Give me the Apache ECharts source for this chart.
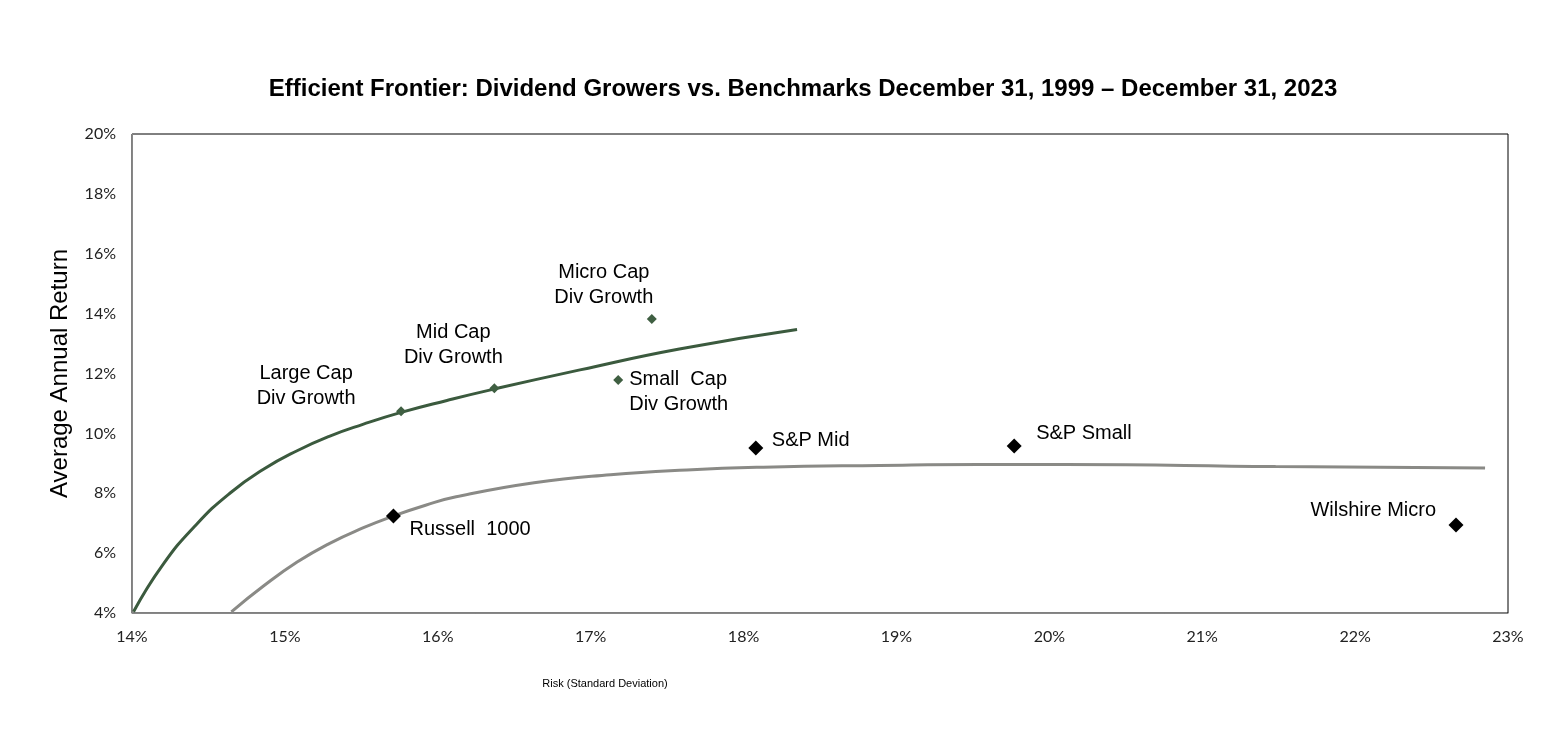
<!DOCTYPE html>
<html>
<head>
<meta charset="utf-8">
<script src="https://cdn.jsdelivr.net/npm/echarts@6/dist/echarts.min.js"></script>
<style>
  html, body { margin: 0; padding: 0; background: #fff; }
  #chart { width: 1565px; height: 739px; }
</style>
</head>
<body>
<div id="chart"></div>
<script>
// frontier curves, [risk %, return %]
const divGrowthFrontier = [
    [14.01, 4.04], [14.2, 5.6], [14.42, 6.95], [14.64, 8.0], [14.86, 8.8],
    [15.08, 9.42], [15.29, 9.9], [15.51, 10.3], [15.76, 10.7], [16.06, 11.1],
    [16.36, 11.47], [16.93, 12.12], [17.58, 12.82], [18.35, 13.47]
];
const benchmarkFrontier = [
    [14.65, 4.04], [14.86, 4.9], [15.08, 5.7], [15.29, 6.32], [15.51, 6.84],
    [15.71, 7.24], [15.92, 7.6], [16.12, 7.88], [16.63, 8.35], [17.13, 8.62],
    [17.63, 8.78], [18.13, 8.87], [18.89, 8.93], [19.54, 8.96], [20.1, 8.96],
    [21.48, 8.89], [22.85, 8.84]
];

const divGrowthNames = ["Large Cap\nDiv Growth", "Mid Cap\nDiv Growth", "Micro Cap\nDiv Growth", "Small  Cap\nDiv Growth"];
const divGrowthRisk = [15.76, 16.37, 17.4, 17.18];
const divGrowthReturn = [10.74, 11.51, 13.82, 11.78];

const benchNames = ["Russell  1000", "S&P Mid", "S&P Small", "Wilshire Micro"];
const benchRisk = [15.71, 18.08, 19.77, 22.66];
const benchReturn = [7.24, 9.51, 9.58, 6.94];

const xTicks = [14, 23, 1];
const yTicks = [4, 20, 2];

// label placement, by name
const labelLayout = {
    "Large Cap\nDiv Growth": { offset: [-95, -25], align: "center" },
    "Mid Cap\nDiv Growth": { offset: [-41, -43], align: "center" },
    "Micro Cap\nDiv Growth": { offset: [-48, -34], align: "center" },
    "Small  Cap\nDiv Growth": { offset: [11, 12], align: "left" },
    "Russell  1000": { offset: [16, 13], align: "left" },
    "S&P Mid": { offset: [16, -8], align: "left" },
    "S&P Small": { offset: [22, -12], align: "left" },
    "Wilshire Micro": { offset: [-20, -14], align: "right" }
};

const toPoints = (names, xs, ys) => names.map((n, i) => ({
    name: n,
    value: [xs[i], ys[i]],
    label: {
        show: true,
        position: "inside",
        offset: labelLayout[n].offset,
        align: labelLayout[n].align,
        verticalAlign: "middle"
    }
}));

const pointLabel = {
    formatter: (p) => p.name,
    color: "#000",
    fontSize: 20,
    lineHeight: 25,
    fontFamily: "Liberation Sans, Arial, sans-serif"
};

const chart = echarts.init(document.getElementById("chart"));

const option = {
    backgroundColor: "#fff",
    animation: false,
    title: {
        text: "Efficient Frontier: Dividend Growers vs. Benchmarks December 31, 1999 \u2013 December 31, 2023",
        left: 798,
        textAlign: "center",
        top: 72,
        textStyle: {
            fontFamily: "Liberation Sans, Arial, sans-serif",
            fontSize: 24,
            fontWeight: "bold",
            color: "#000"
        }
    },
    grid: {
        left: 132,
        right: 57,
        top: 134,
        bottom: 126,
        show: true,
        borderColor: "#000",
        borderWidth: 1
    },
    xAxis: {
        type: "value",
        min: xTicks[0],
        max: xTicks[1],
        interval: xTicks[2],
        name: "Risk (Standard Deviation)",
        nameLocation: "middle",
        nameGap: 65,
        nameTextStyle: {
            fontFamily: "Liberation Sans, Arial, sans-serif",
            fontSize: 11,
            color: "#000",
            padding: [0, 430, 0, 0]
        },
        axisLine: { lineStyle: { color: "#888", width: 1 } },
        axisTick: { show: false },
        splitLine: { show: false },
        axisLabel: {
            formatter: "{value}%",
            margin: 16,
            fontSize: 16,
            color: "#222",
            fontFamily: "Lato, Noto Sans, sans-serif"
        }
    },
    yAxis: {
        type: "value",
        min: yTicks[0],
        max: yTicks[1],
        interval: yTicks[2],
        name: "Average Annual Return",
        nameLocation: "middle",
        nameGap: 60,
        nameTextStyle: {
            fontFamily: "Liberation Sans, Arial, sans-serif",
            fontSize: 24,
            color: "#000"
        },
        axisLine: { show: true, lineStyle: { color: "#888", width: 1 } },
        axisTick: { show: false },
        splitLine: { show: false },
        axisLabel: {
            formatter: "{value}%",
            margin: 16,
            fontSize: 16,
            color: "#222",
            fontFamily: "Lato, Noto Sans, sans-serif"
        }
    },
    series: [
        {
            type: "line",
            data: divGrowthFrontier,
            smooth: 0.5,
            symbol: "none",
            lineStyle: { color: "#3b5a3e", width: 3 },
            z: 2
        },
        {
            type: "line",
            data: benchmarkFrontier,
            smooth: 0.5,
            symbol: "none",
            lineStyle: { color: "#8a8a86", width: 3 },
            z: 2
        },
        {
            type: "scatter",
            data: toPoints(divGrowthNames, divGrowthRisk, divGrowthReturn),
            symbol: "diamond",
            symbolSize: 10,
            itemStyle: { color: "#3f5f42", opacity: 1 },
            label: pointLabel,
            z: 5
        },
        {
            type: "scatter",
            data: toPoints(benchNames, benchRisk, benchReturn),
            symbol: "diamond",
            symbolSize: 15,
            itemStyle: { color: "#000", opacity: 1 },
            label: pointLabel,
            z: 5
        }
    ]
};

chart.setOption(option);
</script>
</body>
</html>
